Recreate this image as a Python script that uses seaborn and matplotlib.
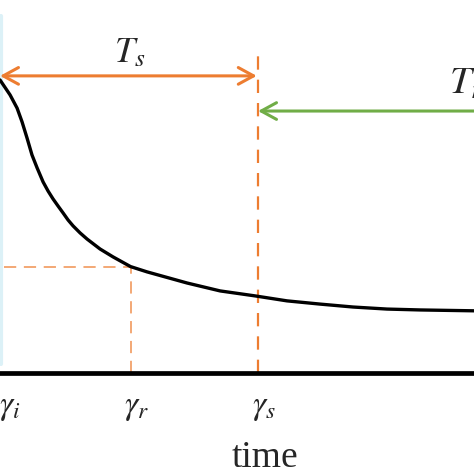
import numpy as np
import pandas as pd
import matplotlib
matplotlib.use("Agg")
import matplotlib.pyplot as plt
import seaborn as sns

# curve (time in units of gamma_r - gamma_i, response normalised)
time = [-0.024, 0.055, 0.110, 0.149, 0.188, 0.227, 0.267, 0.314, 0.353, 0.392,
        0.431, 0.471, 0.510, 0.549, 0.604, 0.659, 0.761, 0.863, 1.0, 1.129,
        1.443, 1.702, 1.976, 2.227, 2.486, 2.745, 3.012, 3.271, 3.70]
response = [1.0, 0.949, 0.904, 0.857, 0.802, 0.744, 0.700, 0.652, 0.621, 0.594,
            0.570, 0.546, 0.522, 0.502, 0.478, 0.457, 0.423, 0.396, 0.363, 0.345,
            0.307, 0.280, 0.263, 0.246, 0.235, 0.225, 0.218, 0.215, 0.212]

tick_pos = [0.0, 1.0, 2.0]
tick_labels = [r"$\gamma_i$", r"$\gamma_r$", r"$\gamma_s$"]

gamma_r_level = 0.363
arrow_ts_level = 1.014
arrow_tr_level = 0.894

df = pd.DataFrame({"time": time, "response": response})

sns.set_style("white")
plt.rcParams["font.family"] = ["Liberation Serif", "DejaVu Serif"]
plt.rcParams["mathtext.fontset"] = "stix"

orange = "#ED7D31"
green = "#70AD47"

fig = plt.figure(figsize=(4.74, 4.74), dpi=100)
ax = fig.add_axes([0, 0, 1, 1])
ax.set_xlim(-0.024, 3.694)
ax.set_ylim(-0.345, 1.273)
ax.axis("off")

# pale line at the left edge
ax.plot([-0.016, -0.016], [0.03, 1.22], color="#dcf1f7", lw=3)

# dashed guides for gamma_r
ax.plot([0.01, tick_pos[1]], [gamma_r_level, gamma_r_level], color=orange,
        lw=1.1, alpha=0.85, dashes=(8, 5))
ax.plot([tick_pos[1], tick_pos[1]], [0, gamma_r_level], color=orange,
        lw=1.1, alpha=0.85, dashes=(8, 5))

# dashed line at gamma_s
ax.plot([tick_pos[2], tick_pos[2]], [0, 1.092], color=orange, lw=1.6,
        dashes=(6, 4.5))

# response curve
sns.lineplot(data=df, x="time", y="response", color="black", lw=2.4, ax=ax,
             solid_joinstyle="round", solid_capstyle="round")

# time axis
ax.plot([-0.05, 3.75], [0, 0], color="black", lw=3.4, solid_capstyle="butt")

# arrows
ax.annotate("", xy=(-0.024, arrow_ts_level), xytext=(1.99, arrow_ts_level),
            arrowprops=dict(arrowstyle="<->,head_length=0.55,head_width=0.3",
                            color=orange, lw=2.2, mutation_scale=20,
                            shrinkA=0, shrinkB=0))
ax.annotate("", xy=(2.0, arrow_tr_level), xytext=(3.8, arrow_tr_level),
            arrowprops=dict(arrowstyle="->,head_length=0.55,head_width=0.3",
                            color=green, lw=2.2, mutation_scale=20,
                            shrinkA=0, shrinkB=0))

ax.text(0.99, 1.09, r"$T_s$", fontsize=26, ha="center", va="center")
ax.text(3.50, 0.985, r"$T_r$", fontsize=28, ha="left", va="center")

for p, lab in zip(tick_pos, tick_labels):
    ax.text(p + 0.05, -0.118, lab, fontsize=24, ha="center", va="center")

ax.text(2.055, -0.29, "time", fontsize=27, ha="center", va="center")

fig.savefig("out.png", dpi=100)
